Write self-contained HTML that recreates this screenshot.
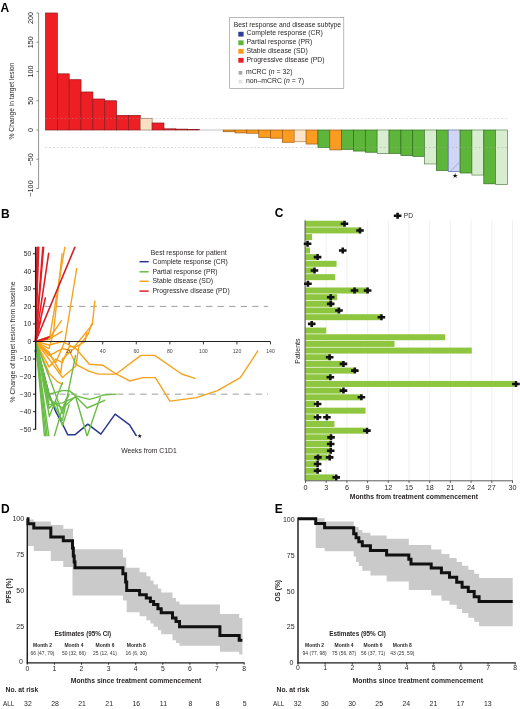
<!DOCTYPE html>
<html lang="en"><head><meta charset="utf-8"><title>Figure</title>
<style>html,body{margin:0;padding:0;background:#fff}body{width:520px;height:709px;overflow:hidden}svg{display:block;font-family:'Liberation Sans', Arial, Helvetica, sans-serif}</style>
</head><body>
<svg width="520" height="709" viewBox="0 0 520 709" font-family='"Liberation Sans", Arial, Helvetica, sans-serif'>
<defs>
<pattern id="hPDl" width="1.6" height="1.6" patternUnits="userSpaceOnUse" patternTransform="rotate(45)"><line x1="0" y1="0.8" x2="1.6" y2="0.8" stroke="#f4c9b0" stroke-width="0.45"/></pattern>
<pattern id="hSDl" width="1.6" height="1.6" patternUnits="userSpaceOnUse" patternTransform="rotate(45)"><line x1="0" y1="0.8" x2="1.6" y2="0.8" stroke="#fbd2a4" stroke-width="0.45"/></pattern>
<pattern id="hPRl" width="1.6" height="1.6" patternUnits="userSpaceOnUse" patternTransform="rotate(45)"><line x1="0" y1="0.8" x2="1.6" y2="0.8" stroke="#b4dba6" stroke-width="0.45"/></pattern>
<pattern id="hCRl" width="1.6" height="1.6" patternUnits="userSpaceOnUse" patternTransform="rotate(45)"><line x1="0" y1="0.8" x2="1.6" y2="0.8" stroke="#b0baea" stroke-width="0.45"/></pattern>
</defs>
<rect width="520" height="709" fill="#fff"/>
<g id="panelA">
<text x="0.50" y="12.20" font-size="12" font-weight="bold" fill="#000">A</text>
<line x1="38.6" y1="13.00" x2="38.6" y2="188.50" stroke="#4d4d4d" stroke-width="0.6"/>
<line x1="36.3" y1="13.00" x2="38.6" y2="13.00" stroke="#4d4d4d" stroke-width="0.6"/>
<text x="30.40" y="20.61" font-size="7.3" text-anchor="middle" transform="rotate(-90 30.40 18.00)" fill="#231f20">200</text>
<line x1="36.3" y1="42.25" x2="38.6" y2="42.25" stroke="#4d4d4d" stroke-width="0.6"/>
<text x="30.40" y="44.86" font-size="7.3" text-anchor="middle" transform="rotate(-90 30.40 42.25)" fill="#231f20">150</text>
<line x1="36.3" y1="71.50" x2="38.6" y2="71.50" stroke="#4d4d4d" stroke-width="0.6"/>
<text x="30.40" y="74.11" font-size="7.3" text-anchor="middle" transform="rotate(-90 30.40 71.50)" fill="#231f20">100</text>
<line x1="36.3" y1="100.75" x2="38.6" y2="100.75" stroke="#4d4d4d" stroke-width="0.6"/>
<text x="30.40" y="103.36" font-size="7.3" text-anchor="middle" transform="rotate(-90 30.40 100.75)" fill="#231f20">50</text>
<line x1="36.3" y1="130.00" x2="38.6" y2="130.00" stroke="#4d4d4d" stroke-width="0.6"/>
<text x="30.40" y="132.61" font-size="7.3" text-anchor="middle" transform="rotate(-90 30.40 130.00)" fill="#231f20">0</text>
<line x1="36.3" y1="159.25" x2="38.6" y2="159.25" stroke="#4d4d4d" stroke-width="0.6"/>
<text x="30.40" y="161.86" font-size="7.3" text-anchor="middle" transform="rotate(-90 30.40 159.25)" fill="#231f20">−50</text>
<line x1="36.3" y1="188.50" x2="38.6" y2="188.50" stroke="#4d4d4d" stroke-width="0.6"/>
<text x="30.40" y="191.11" font-size="7.3" text-anchor="middle" transform="rotate(-90 30.40 188.50)" fill="#231f20">−100</text>
<text x="11.90" y="103.58" font-size="7.2" text-anchor="middle" textLength="77.00" lengthAdjust="spacingAndGlyphs" transform="rotate(-90 11.90 101.00)" fill="#231f20">% Change in target lesion</text>
<rect x="45.50" y="13.00" width="11.85" height="117.00" fill="#ed1f24" stroke="#8e1b1e" stroke-width="0.7"/>
<rect x="57.35" y="73.84" width="11.85" height="56.16" fill="#ed1f24" stroke="#8e1b1e" stroke-width="0.7"/>
<rect x="69.19" y="79.69" width="11.85" height="50.31" fill="#ed1f24" stroke="#8e1b1e" stroke-width="0.7"/>
<rect x="81.04" y="91.97" width="11.85" height="38.03" fill="#ed1f24" stroke="#8e1b1e" stroke-width="0.7"/>
<rect x="92.88" y="99.00" width="11.85" height="31.00" fill="#ed1f24" stroke="#8e1b1e" stroke-width="0.7"/>
<rect x="104.73" y="100.75" width="11.85" height="29.25" fill="#ed1f24" stroke="#8e1b1e" stroke-width="0.7"/>
<rect x="116.58" y="115.38" width="11.85" height="14.62" fill="#ed1f24" stroke="#8e1b1e" stroke-width="0.7"/>
<rect x="128.42" y="115.38" width="11.85" height="14.62" fill="#ed1f24" stroke="#8e1b1e" stroke-width="0.7"/>
<rect x="140.27" y="118.30" width="11.85" height="11.70" fill="#fbe6cb" stroke="#8f6a4a" stroke-width="0.7"/>
<rect x="140.67" y="118.70" width="11.05" height="10.90" fill="url(#hPDl)" stroke="none"/>
<rect x="152.11" y="122.98" width="11.85" height="7.02" fill="#ed1f24" stroke="#8e1b1e" stroke-width="0.7"/>
<rect x="163.96" y="128.83" width="11.85" height="1.17" fill="#ed1f24" stroke="#8e1b1e" stroke-width="0.7"/>
<rect x="175.81" y="129.12" width="11.85" height="0.88" fill="#ed1f24" stroke="#8e1b1e" stroke-width="0.7"/>
<rect x="187.65" y="129.41" width="11.85" height="0.59" fill="#ed1f24" stroke="#8e1b1e" stroke-width="0.7"/>
<rect x="223.19" y="130.00" width="11.85" height="1.75" fill="#fb9b20" stroke="#9c5a12" stroke-width="0.7"/>
<rect x="235.04" y="130.00" width="11.85" height="2.93" fill="#fb9b20" stroke="#9c5a12" stroke-width="0.7"/>
<rect x="246.88" y="130.00" width="11.85" height="3.22" fill="#fb9b20" stroke="#9c5a12" stroke-width="0.7"/>
<rect x="258.73" y="130.00" width="11.85" height="7.49" fill="#fb9b20" stroke="#9c5a12" stroke-width="0.7"/>
<rect x="270.57" y="130.00" width="11.85" height="8.19" fill="#fb9b20" stroke="#9c5a12" stroke-width="0.7"/>
<rect x="282.42" y="130.00" width="11.85" height="12.28" fill="#fb9b20" stroke="#9c5a12" stroke-width="0.7"/>
<rect x="294.27" y="130.00" width="11.85" height="11.70" fill="#ffecd6" stroke="#b07c48" stroke-width="0.7"/>
<rect x="294.67" y="130.40" width="11.05" height="10.90" fill="url(#hSDl)" stroke="none"/>
<rect x="306.11" y="130.00" width="11.85" height="14.04" fill="#fb9b20" stroke="#9c5a12" stroke-width="0.7"/>
<rect x="317.96" y="130.00" width="11.85" height="17.55" fill="#5db53a" stroke="#2f6e1e" stroke-width="0.7"/>
<rect x="329.80" y="130.00" width="11.85" height="19.89" fill="#fb9b20" stroke="#9c5a12" stroke-width="0.7"/>
<rect x="341.65" y="130.00" width="11.85" height="19.31" fill="#5db53a" stroke="#2f6e1e" stroke-width="0.7"/>
<rect x="353.50" y="130.00" width="11.85" height="21.06" fill="#5db53a" stroke="#2f6e1e" stroke-width="0.7"/>
<rect x="365.34" y="130.00" width="11.85" height="22.23" fill="#5db53a" stroke="#2f6e1e" stroke-width="0.7"/>
<rect x="377.19" y="130.00" width="11.85" height="23.40" fill="#e6f3df" stroke="#4f7f42" stroke-width="0.7"/>
<rect x="377.59" y="130.40" width="11.05" height="22.60" fill="url(#hPRl)" stroke="none"/>
<rect x="389.03" y="130.00" width="11.85" height="23.40" fill="#5db53a" stroke="#2f6e1e" stroke-width="0.7"/>
<rect x="400.88" y="130.00" width="11.85" height="25.45" fill="#5db53a" stroke="#2f6e1e" stroke-width="0.7"/>
<rect x="412.73" y="130.00" width="11.85" height="26.32" fill="#5db53a" stroke="#2f6e1e" stroke-width="0.7"/>
<rect x="424.57" y="130.00" width="11.85" height="33.93" fill="#e6f3df" stroke="#4f7f42" stroke-width="0.7"/>
<rect x="424.97" y="130.40" width="11.05" height="33.13" fill="url(#hPRl)" stroke="none"/>
<rect x="436.42" y="130.00" width="11.85" height="40.37" fill="#5db53a" stroke="#2f6e1e" stroke-width="0.7"/>
<rect x="448.26" y="130.00" width="11.85" height="41.53" fill="#dbe1f6" stroke="#55669f" stroke-width="0.7"/>
<rect x="448.66" y="130.40" width="11.05" height="40.73" fill="url(#hCRl)" stroke="none"/>
<rect x="460.11" y="130.00" width="11.85" height="43.00" fill="#5db53a" stroke="#2f6e1e" stroke-width="0.7"/>
<rect x="471.96" y="130.00" width="11.85" height="45.04" fill="#e6f3df" stroke="#4f7f42" stroke-width="0.7"/>
<rect x="472.36" y="130.40" width="11.05" height="44.24" fill="url(#hPRl)" stroke="none"/>
<rect x="483.80" y="130.00" width="11.85" height="53.82" fill="#5db53a" stroke="#2f6e1e" stroke-width="0.7"/>
<rect x="495.65" y="130.00" width="11.85" height="54.41" fill="#e6f3df" stroke="#4f7f42" stroke-width="0.7"/>
<rect x="496.05" y="130.40" width="11.05" height="53.61" fill="url(#hPRl)" stroke="none"/>
<line x1="199.50" y1="130" x2="223.19" y2="130" stroke="#9a9a9a" stroke-width="0.6"/>
<line x1="450.16" y1="171.53" x2="460.11" y2="161.53" stroke="#6f7fc0" stroke-width="0.5"/>
<line x1="45.5" y1="118.30" x2="507.5" y2="118.30" stroke="#a6a6a6" stroke-width="0.6" stroke-dasharray="1.6 2.2" opacity="0.85"/>
<line x1="45.5" y1="147.55" x2="507.5" y2="147.55" stroke="#a6a6a6" stroke-width="0.6" stroke-dasharray="1.6 2.2" opacity="0.85"/>
<text x="455.30" y="178.33" font-size="6.5" text-anchor="middle" fill="#111">★</text>
<rect x="229.7" y="17.6" width="114.1" height="70.8" fill="#fff" stroke="#8c8c8c" stroke-width="0.6"/>
<text x="233.80" y="26.87" font-size="6.9" textLength="107.30" lengthAdjust="spacingAndGlyphs" fill="#231f20">Best response and disease subtype</text>
<rect x="238.3" y="31.80" width="5.3" height="4.8" fill="#2e3d98"/>
<text x="246.50" y="35.47" font-size="6.9" fill="#231f20">Complete response (CR)</text>
<rect x="238.3" y="40.40" width="5.3" height="4.8" fill="#5db53a"/>
<text x="246.50" y="44.07" font-size="6.9" fill="#231f20">Partial response (PR)</text>
<rect x="238.3" y="48.90" width="5.3" height="4.8" fill="#fb9b20"/>
<text x="246.50" y="52.57" font-size="6.9" fill="#231f20">Stable disease (SD)</text>
<rect x="238.3" y="57.90" width="5.3" height="4.8" fill="#ed1f24"/>
<text x="246.50" y="61.57" font-size="6.9" fill="#231f20">Progressive disease (PD)</text>
<rect x="238.6" y="71.00" width="3.7" height="3.7" fill="#a8a8a8"/>
<text x="245.90" y="74.37" font-size="6.9" fill="#231f20">mCRC (<tspan font-style="italic">n</tspan> = 32)</text>
<rect x="238.6" y="79.80" width="3.7" height="3.7" fill="#e3e3e3"/>
<text x="245.90" y="82.97" font-size="6.9" fill="#231f20">non–mCRC (<tspan font-style="italic">n</tspan> = 7)</text>
</g>
<g id="panelB">
<text x="0.90" y="218.00" font-size="12" font-weight="bold" fill="#000">B</text>
<clipPath id="clipB"><rect x="30" y="246.8" width="250" height="189.4"/></clipPath>
<line x1="44.3" y1="306.40" x2="268" y2="306.40" stroke="#9d9d9d" stroke-width="1" stroke-dasharray="6.4 5.15"/>
<line x1="47.8" y1="394.15" x2="268" y2="394.15" stroke="#9d9d9d" stroke-width="1" stroke-dasharray="6.4 5.15"/>
<g clip-path="url(#clipB)">
<polyline points="35.60,341.50 49.02,366.95 55.74,359.05 62.45,362.56 69.16,346.76 74.87,346.24 92.32,324.65 94.83,301.13" fill="none" stroke="#f6a21d" stroke-width="1.4" stroke-linejoin="round" stroke-linecap="round"/>
<polyline points="35.60,341.50 49.02,359.05 62.45,377.48 75.87,366.07 78.89,346.24 88.29,334.13 91.65,323.95" fill="none" stroke="#f6a21d" stroke-width="1.4" stroke-linejoin="round" stroke-linecap="round"/>
<polyline points="35.60,341.50 49.02,373.09 57.41,381.87 62.45,384.15" fill="none" stroke="#f6a21d" stroke-width="1.4" stroke-linejoin="round" stroke-linecap="round"/>
<polyline points="35.60,341.50 49.02,355.54 62.45,348.52 69.16,350.27 75.87,364.31 89.30,371.33 98.53,374.14 116.14,373.97 140.81,355.36 154.74,355.36 181.59,373.97 195.01,378.36" fill="none" stroke="#f6a21d" stroke-width="1.4" stroke-linejoin="round" stroke-linecap="round"/>
<polyline points="35.60,341.50 49.02,345.01 62.45,341.50 75.87,348.52 89.30,364.31 102.72,365.19 116.14,373.97 129.57,380.99 142.66,377.65 155.41,377.65 169.84,401.17 196.35,397.66 217.50,390.64 240.32,377.65 257.77,350.98" fill="none" stroke="#f6a21d" stroke-width="1.4" stroke-linejoin="round" stroke-linecap="round"/>
<polyline points="35.60,341.50 49.02,352.03 60.77,373.09 62.45,359.05 75.87,346.76 85.10,341.50 86.78,332.73" fill="none" stroke="#f6a21d" stroke-width="1.4" stroke-linejoin="round" stroke-linecap="round"/>
<polyline points="35.60,341.50 50.70,336.24 61.44,320.62" fill="none" stroke="#f6a21d" stroke-width="1.4" stroke-linejoin="round" stroke-linecap="round"/>
<polyline points="35.60,341.50 50.70,338.17 62.11,331.41" fill="none" stroke="#f6a21d" stroke-width="1.4" stroke-linejoin="round" stroke-linecap="round"/>
<polyline points="35.60,341.50 49.36,339.39 65.47,243.22" fill="none" stroke="#f6a21d" stroke-width="1.4" stroke-linejoin="round" stroke-linecap="round"/>
<polyline points="35.60,341.50 49.02,348.52 53.39,332.73 62.11,253.75" fill="none" stroke="#f6a21d" stroke-width="1.4" stroke-linejoin="round" stroke-linecap="round"/>
<polyline points="35.60,341.50 49.02,353.79 55.74,362.56 64.80,341.50 76.71,268.49" fill="none" stroke="#f6a21d" stroke-width="1.4" stroke-linejoin="round" stroke-linecap="round"/>
<polyline points="35.60,341.50 49.02,394.15 55.74,411.70 62.45,423.99 67.82,434.87 74.87,434.87 87.79,424.16 100.87,434.16 115.14,414.16 129.57,424.86 136.28,435.74" fill="none" stroke="#2b3a8f" stroke-width="1.5" stroke-linejoin="round" stroke-linecap="round"/>
<polyline points="35.60,341.50 44.83,439.78" fill="none" stroke="#69bc45" stroke-width="1.4" stroke-linejoin="round" stroke-linecap="round"/>
<polyline points="35.60,341.50 46.17,439.78" fill="none" stroke="#69bc45" stroke-width="1.4" stroke-linejoin="round" stroke-linecap="round"/>
<polyline points="35.60,341.50 47.68,439.78" fill="none" stroke="#69bc45" stroke-width="1.4" stroke-linejoin="round" stroke-linecap="round"/>
<polyline points="35.60,341.50 49.36,439.78" fill="none" stroke="#69bc45" stroke-width="1.4" stroke-linejoin="round" stroke-linecap="round"/>
<polyline points="35.60,341.50 49.36,416.44 62.45,382.57" fill="none" stroke="#69bc45" stroke-width="1.4" stroke-linejoin="round" stroke-linecap="round"/>
<polyline points="35.60,341.50 49.02,394.15 55.74,392.39 62.45,390.64 69.16,390.64 75.87,395.90 89.30,399.42 96.01,397.66 102.72,395.03 116.14,394.15" fill="none" stroke="#69bc45" stroke-width="1.4" stroke-linejoin="round" stroke-linecap="round"/>
<polyline points="35.60,341.50 49.02,395.90 62.45,420.48 75.54,355.54" fill="none" stroke="#69bc45" stroke-width="1.4" stroke-linejoin="round" stroke-linecap="round"/>
<polyline points="53.22,439.78 62.45,408.19 69.16,394.15" fill="none" stroke="#69bc45" stroke-width="1.4" stroke-linejoin="round" stroke-linecap="round"/>
<polyline points="35.60,341.50 49.02,399.42 62.45,408.19 75.54,396.43 87.11,436.27 100.20,397.66" fill="none" stroke="#69bc45" stroke-width="1.4" stroke-linejoin="round" stroke-linecap="round"/>
<polyline points="35.60,341.50 49.02,404.68 62.45,402.93 75.87,396.78 87.11,408.01 104.73,400.29" fill="none" stroke="#69bc45" stroke-width="1.4" stroke-linejoin="round" stroke-linecap="round"/>
<polyline points="35.60,341.50 49.02,408.19 55.74,401.17 62.45,425.74 69.16,404.68" fill="none" stroke="#69bc45" stroke-width="1.4" stroke-linejoin="round" stroke-linecap="round"/>
<polyline points="35.60,341.50 49.02,376.60 62.45,413.45 65.80,399.42" fill="none" stroke="#69bc45" stroke-width="1.4" stroke-linejoin="round" stroke-linecap="round"/>
<polyline points="35.60,341.50 37.11,243.22" fill="none" stroke="#e21f26" stroke-width="1.6" stroke-linejoin="round" stroke-linecap="round"/>
<polyline points="35.60,341.50 37.95,243.22" fill="none" stroke="#e21f26" stroke-width="1.6" stroke-linejoin="round" stroke-linecap="round"/>
<polyline points="35.60,341.50 38.79,243.22" fill="none" stroke="#e21f26" stroke-width="1.6" stroke-linejoin="round" stroke-linecap="round"/>
<polyline points="35.60,341.50 43.15,243.22" fill="none" stroke="#e21f26" stroke-width="1.6" stroke-linejoin="round" stroke-linecap="round"/>
<polyline points="35.60,341.50 43.91,243.22" fill="none" stroke="#e21f26" stroke-width="1.6" stroke-linejoin="round" stroke-linecap="round"/>
<polyline points="35.60,341.50 48.69,253.22" fill="none" stroke="#e21f26" stroke-width="1.6" stroke-linejoin="round" stroke-linecap="round"/>
<polyline points="35.60,341.50 45.33,297.98" fill="none" stroke="#e21f26" stroke-width="1.6" stroke-linejoin="round" stroke-linecap="round"/>
<polyline points="35.60,341.50 40.63,320.44" fill="none" stroke="#e21f26" stroke-width="1.6" stroke-linejoin="round" stroke-linecap="round"/>
<polyline points="35.60,341.50 49.02,336.94" fill="none" stroke="#e21f26" stroke-width="1.6" stroke-linejoin="round" stroke-linecap="round"/>
<polyline points="35.60,341.50 47.35,338.69" fill="none" stroke="#e21f26" stroke-width="1.6" stroke-linejoin="round" stroke-linecap="round"/>
<polyline points="35.60,341.50 76.54,243.22" fill="none" stroke="#d21f28" stroke-width="1.6" stroke-linejoin="round" stroke-linecap="round"/>
</g>
<line x1="35.6" y1="246.8" x2="35.6" y2="429.75" stroke="#231f20" stroke-width="1.3"/>
<line x1="35.6" y1="341.5" x2="270.3" y2="341.5" stroke="#231f20" stroke-width="1.1"/>
<line x1="33" y1="253.75" x2="35.6" y2="253.75" stroke="#231f20" stroke-width="1"/>
<text x="31.40" y="256.18" font-size="6.8" text-anchor="end" fill="#231f20">50</text>
<line x1="33" y1="271.30" x2="35.6" y2="271.30" stroke="#231f20" stroke-width="1"/>
<text x="31.40" y="273.73" font-size="6.8" text-anchor="end" fill="#231f20">40</text>
<line x1="33" y1="288.85" x2="35.6" y2="288.85" stroke="#231f20" stroke-width="1"/>
<text x="31.40" y="291.28" font-size="6.8" text-anchor="end" fill="#231f20">30</text>
<line x1="33" y1="306.40" x2="35.6" y2="306.40" stroke="#231f20" stroke-width="1"/>
<text x="31.40" y="308.83" font-size="6.8" text-anchor="end" fill="#231f20">20</text>
<line x1="33" y1="323.95" x2="35.6" y2="323.95" stroke="#231f20" stroke-width="1"/>
<text x="31.40" y="326.38" font-size="6.8" text-anchor="end" fill="#231f20">10</text>
<line x1="33" y1="341.50" x2="35.6" y2="341.50" stroke="#231f20" stroke-width="1"/>
<text x="31.40" y="343.93" font-size="6.8" text-anchor="end" fill="#231f20">0</text>
<line x1="33" y1="359.05" x2="35.6" y2="359.05" stroke="#231f20" stroke-width="1"/>
<text x="31.40" y="361.48" font-size="6.8" text-anchor="end" fill="#231f20">−10</text>
<line x1="33" y1="376.60" x2="35.6" y2="376.60" stroke="#231f20" stroke-width="1"/>
<text x="31.40" y="379.03" font-size="6.8" text-anchor="end" fill="#231f20">−20</text>
<line x1="33" y1="394.15" x2="35.6" y2="394.15" stroke="#231f20" stroke-width="1"/>
<text x="31.40" y="396.58" font-size="6.8" text-anchor="end" fill="#231f20">−30</text>
<line x1="33" y1="411.70" x2="35.6" y2="411.70" stroke="#231f20" stroke-width="1"/>
<text x="31.40" y="414.13" font-size="6.8" text-anchor="end" fill="#231f20">−40</text>
<line x1="33" y1="429.25" x2="35.6" y2="429.25" stroke="#231f20" stroke-width="1"/>
<text x="31.40" y="431.68" font-size="6.8" text-anchor="end" fill="#231f20">−50</text>
<line x1="69.16" y1="341.5" x2="69.16" y2="344.4" stroke="#231f20" stroke-width="0.9"/>
<text x="69.16" y="352.66" font-size="5.2" text-anchor="middle" fill="#4a4a4a">20</text>
<line x1="102.72" y1="341.5" x2="102.72" y2="344.4" stroke="#231f20" stroke-width="0.9"/>
<text x="102.72" y="352.66" font-size="5.2" text-anchor="middle" fill="#4a4a4a">40</text>
<line x1="136.28" y1="341.5" x2="136.28" y2="344.4" stroke="#231f20" stroke-width="0.9"/>
<text x="136.28" y="352.66" font-size="5.2" text-anchor="middle" fill="#4a4a4a">60</text>
<line x1="169.84" y1="341.5" x2="169.84" y2="344.4" stroke="#231f20" stroke-width="0.9"/>
<text x="169.84" y="352.66" font-size="5.2" text-anchor="middle" fill="#4a4a4a">80</text>
<line x1="203.40" y1="341.5" x2="203.40" y2="344.4" stroke="#231f20" stroke-width="0.9"/>
<text x="203.40" y="352.66" font-size="5.2" text-anchor="middle" fill="#4a4a4a">100</text>
<line x1="236.96" y1="341.5" x2="236.96" y2="344.4" stroke="#231f20" stroke-width="0.9"/>
<text x="236.96" y="352.66" font-size="5.2" text-anchor="middle" fill="#4a4a4a">120</text>
<line x1="270.52" y1="341.5" x2="270.52" y2="344.4" stroke="#231f20" stroke-width="0.9"/>
<text x="270.52" y="352.66" font-size="5.2" text-anchor="middle" fill="#4a4a4a">140</text>
<text x="35.60" y="352.66" font-size="5.2" text-anchor="middle" fill="#355">0</text>
<text x="12.60" y="344.51" font-size="7.0" text-anchor="middle" textLength="121.00" lengthAdjust="spacingAndGlyphs" transform="rotate(-90 12.60 342.00)" fill="#231f20">% Change of target lesion from baseline</text>
<text x="121.20" y="452.66" font-size="6.6" textLength="55.50" lengthAdjust="spacingAndGlyphs" fill="#231f20">Weeks from C1D1</text>
<text x="139.40" y="437.60" font-size="5.6" text-anchor="middle" fill="#111">★</text>
<text x="150.80" y="254.56" font-size="6.6" textLength="75.80" lengthAdjust="spacingAndGlyphs" fill="#231f20">Best response for patient</text>
<line x1="139.5" y1="261.7" x2="148.7" y2="261.7" stroke="#2e3192" stroke-width="1.5"/>
<text x="152.50" y="263.84" font-size="6.82" fill="#231f20">Complete response (CR)</text>
<line x1="139.5" y1="271.8" x2="148.7" y2="271.8" stroke="#69bc45" stroke-width="1.5"/>
<text x="152.50" y="273.94" font-size="6.82" fill="#231f20">Partial response (PR)</text>
<line x1="139.5" y1="281.3" x2="148.7" y2="281.3" stroke="#f6a21d" stroke-width="1.5"/>
<text x="152.50" y="283.44" font-size="6.82" fill="#231f20">Stable disease (SD)</text>
<line x1="139.5" y1="291.1" x2="148.7" y2="291.1" stroke="#e21f26" stroke-width="1.5"/>
<text x="152.50" y="293.24" font-size="6.82" fill="#231f20">Progressive disease (PD)</text>
</g>
<g id="panelC">
<text x="274.80" y="217.40" font-size="12" font-weight="bold" fill="#000">C</text>
<line x1="326.20" y1="220.4" x2="326.20" y2="480.8" stroke="#e9e9e9" stroke-width="0.7"/>
<line x1="346.90" y1="220.4" x2="346.90" y2="480.8" stroke="#e9e9e9" stroke-width="0.7"/>
<line x1="367.60" y1="220.4" x2="367.60" y2="480.8" stroke="#e9e9e9" stroke-width="0.7"/>
<line x1="388.30" y1="220.4" x2="388.30" y2="480.8" stroke="#e9e9e9" stroke-width="0.7"/>
<line x1="409.00" y1="220.4" x2="409.00" y2="480.8" stroke="#e9e9e9" stroke-width="0.7"/>
<line x1="429.70" y1="220.4" x2="429.70" y2="480.8" stroke="#e9e9e9" stroke-width="0.7"/>
<line x1="450.40" y1="220.4" x2="450.40" y2="480.8" stroke="#e9e9e9" stroke-width="0.7"/>
<line x1="471.10" y1="220.4" x2="471.10" y2="480.8" stroke="#e9e9e9" stroke-width="0.7"/>
<line x1="491.80" y1="220.4" x2="491.80" y2="480.8" stroke="#e9e9e9" stroke-width="0.7"/>
<line x1="512.50" y1="220.4" x2="512.50" y2="480.8" stroke="#e9e9e9" stroke-width="0.7"/>
<rect x="305.50" y="220.75" width="37.95" height="6.0" fill="#8fc640"/>
<rect x="305.50" y="227.43" width="53.82" height="6.0" fill="#8fc640"/>
<rect x="305.50" y="234.10" width="6.55" height="6.0" fill="#8fc640"/>
<rect x="305.50" y="247.45" width="4.49" height="6.0" fill="#8fc640"/>
<rect x="305.50" y="254.12" width="10.70" height="6.0" fill="#8fc640"/>
<rect x="305.50" y="260.80" width="31.05" height="6.0" fill="#8fc640"/>
<rect x="305.50" y="267.48" width="7.59" height="6.0" fill="#8fc640"/>
<rect x="305.50" y="274.15" width="29.67" height="6.0" fill="#8fc640"/>
<rect x="305.50" y="287.50" width="62.10" height="6.0" fill="#8fc640"/>
<rect x="305.50" y="294.18" width="31.74" height="6.0" fill="#8fc640"/>
<rect x="305.50" y="300.85" width="26.91" height="6.0" fill="#8fc640"/>
<rect x="305.50" y="307.52" width="32.43" height="6.0" fill="#8fc640"/>
<rect x="305.50" y="314.20" width="74.86" height="6.0" fill="#8fc640"/>
<rect x="305.50" y="327.55" width="20.70" height="6.0" fill="#8fc640"/>
<rect x="305.50" y="334.23" width="139.72" height="6.0" fill="#8fc640"/>
<rect x="305.50" y="340.90" width="89.01" height="6.0" fill="#8fc640"/>
<rect x="305.50" y="347.57" width="166.29" height="6.0" fill="#8fc640"/>
<rect x="305.50" y="354.25" width="23.46" height="6.0" fill="#8fc640"/>
<rect x="305.50" y="360.92" width="37.26" height="6.0" fill="#8fc640"/>
<rect x="305.50" y="367.60" width="48.30" height="6.0" fill="#8fc640"/>
<rect x="305.50" y="374.27" width="24.15" height="6.0" fill="#8fc640"/>
<rect x="305.50" y="380.95" width="209.07" height="6.0" fill="#8fc640"/>
<rect x="305.50" y="387.62" width="35.88" height="6.0" fill="#8fc640"/>
<rect x="305.50" y="394.30" width="55.20" height="6.0" fill="#8fc640"/>
<rect x="305.50" y="400.98" width="9.66" height="6.0" fill="#8fc640"/>
<rect x="305.50" y="407.65" width="60.03" height="6.0" fill="#8fc640"/>
<rect x="305.50" y="414.32" width="9.66" height="6.0" fill="#8fc640"/>
<rect x="305.50" y="421.00" width="28.98" height="6.0" fill="#8fc640"/>
<rect x="305.50" y="427.67" width="59.34" height="6.0" fill="#8fc640"/>
<rect x="305.50" y="434.35" width="24.50" height="6.0" fill="#8fc640"/>
<rect x="305.50" y="441.02" width="24.15" height="6.0" fill="#8fc640"/>
<rect x="305.50" y="447.70" width="24.15" height="6.0" fill="#8fc640"/>
<rect x="305.50" y="454.38" width="22.08" height="6.0" fill="#8fc640"/>
<rect x="305.50" y="461.05" width="10.70" height="6.0" fill="#8fc640"/>
<rect x="305.50" y="467.73" width="10.70" height="6.0" fill="#8fc640"/>
<rect x="305.50" y="474.40" width="28.98" height="6.0" fill="#8fc640"/>
<line x1="305.1" y1="220.4" x2="305.1" y2="480.8" stroke="#2b2b2b" stroke-width="0.9"/>
<line x1="305.1" y1="480.8" x2="513" y2="480.8" stroke="#4a4a4a" stroke-width="0.9"/>
<path d="M340.69 223.75H348.29M344.49 220.75V226.75" stroke="#111" stroke-width="2.6" fill="none"/>
<path d="M356.21 230.43H363.81M360.01 227.43V233.43" stroke="#111" stroke-width="2.6" fill="none"/>
<path d="M303.77 243.78H311.37M307.57 240.78V246.78" stroke="#111" stroke-width="2.6" fill="none"/>
<path d="M338.96 250.45H346.56M342.76 247.45V253.45" stroke="#111" stroke-width="2.6" fill="none"/>
<path d="M313.77 257.12H321.38M317.57 254.12V260.12" stroke="#111" stroke-width="2.6" fill="none"/>
<path d="M310.67 270.48H318.27M314.47 267.48V273.48" stroke="#111" stroke-width="2.6" fill="none"/>
<path d="M304.12 283.82H311.72M307.92 280.82V286.82" stroke="#111" stroke-width="2.6" fill="none"/>
<path d="M350.69 290.50H358.29M354.49 287.50V293.50" stroke="#111" stroke-width="2.6" fill="none"/>
<path d="M363.80 290.50H371.40M367.60 287.50V293.50" stroke="#111" stroke-width="2.6" fill="none"/>
<path d="M326.88 297.18H334.49M330.69 294.18V300.18" stroke="#111" stroke-width="2.6" fill="none"/>
<path d="M326.88 303.85H334.49M330.69 300.85V306.85" stroke="#111" stroke-width="2.6" fill="none"/>
<path d="M335.16 310.52H342.76M338.96 307.52V313.52" stroke="#111" stroke-width="2.6" fill="none"/>
<path d="M377.60 317.20H385.20M381.40 314.20V320.20" stroke="#111" stroke-width="2.6" fill="none"/>
<path d="M307.91 323.88H315.51M311.71 320.88V326.88" stroke="#111" stroke-width="2.6" fill="none"/>
<path d="M325.85 357.25H333.45M329.65 354.25V360.25" stroke="#111" stroke-width="2.6" fill="none"/>
<path d="M339.65 363.92H347.25M343.45 360.92V366.92" stroke="#111" stroke-width="2.6" fill="none"/>
<path d="M351.04 370.60H358.64M354.84 367.60V373.60" stroke="#111" stroke-width="2.6" fill="none"/>
<path d="M326.54 377.27H334.14M330.34 374.27V380.27" stroke="#111" stroke-width="2.6" fill="none"/>
<path d="M512.15 383.95H519.75M515.95 380.95V386.95" stroke="#111" stroke-width="2.6" fill="none"/>
<path d="M339.65 390.62H347.25M343.45 387.62V393.62" stroke="#111" stroke-width="2.6" fill="none"/>
<path d="M357.59 397.30H365.19M361.39 394.30V400.30" stroke="#111" stroke-width="2.6" fill="none"/>
<path d="M313.77 403.98H321.38M317.57 400.98V406.98" stroke="#111" stroke-width="2.6" fill="none"/>
<path d="M313.77 417.32H321.38M317.57 414.32V420.32" stroke="#111" stroke-width="2.6" fill="none"/>
<path d="M323.09 417.32H330.69M326.89 414.32V420.32" stroke="#111" stroke-width="2.6" fill="none"/>
<path d="M363.11 430.67H370.71M366.91 427.67V433.67" stroke="#111" stroke-width="2.6" fill="none"/>
<path d="M327.23 437.35H334.83M331.03 434.35V440.35" stroke="#111" stroke-width="2.6" fill="none"/>
<path d="M326.88 444.02H334.49M330.69 441.02V447.02" stroke="#111" stroke-width="2.6" fill="none"/>
<path d="M326.88 450.70H334.49M330.69 447.70V453.70" stroke="#111" stroke-width="2.6" fill="none"/>
<path d="M314.12 457.38H321.72M317.92 454.38V460.38" stroke="#111" stroke-width="2.6" fill="none"/>
<path d="M325.85 457.38H333.45M329.65 454.38V460.38" stroke="#111" stroke-width="2.6" fill="none"/>
<path d="M313.77 464.05H321.38M317.57 461.05V467.05" stroke="#111" stroke-width="2.6" fill="none"/>
<path d="M313.77 470.73H321.38M317.57 467.73V473.73" stroke="#111" stroke-width="2.6" fill="none"/>
<path d="M332.40 477.40H340.00M336.20 474.40V480.40" stroke="#111" stroke-width="2.6" fill="none"/>
<path d="M393.80 215.80H401.40M397.60 212.80V218.80" stroke="#111" stroke-width="2.6" fill="none"/>
<text x="403.80" y="218.16" font-size="6.6" fill="#231f20">PD</text>
<line x1="305.50" y1="480.8" x2="305.50" y2="483.0" stroke="#2b2b2b" stroke-width="0.7"/>
<text x="305.50" y="490.18" font-size="7.2" text-anchor="middle" fill="#231f20">0</text>
<line x1="326.20" y1="480.8" x2="326.20" y2="483.0" stroke="#2b2b2b" stroke-width="0.7"/>
<text x="326.20" y="490.18" font-size="7.2" text-anchor="middle" fill="#231f20">3</text>
<line x1="346.90" y1="480.8" x2="346.90" y2="483.0" stroke="#2b2b2b" stroke-width="0.7"/>
<text x="346.90" y="490.18" font-size="7.2" text-anchor="middle" fill="#231f20">6</text>
<line x1="367.60" y1="480.8" x2="367.60" y2="483.0" stroke="#2b2b2b" stroke-width="0.7"/>
<text x="367.60" y="490.18" font-size="7.2" text-anchor="middle" fill="#231f20">9</text>
<line x1="388.30" y1="480.8" x2="388.30" y2="483.0" stroke="#2b2b2b" stroke-width="0.7"/>
<text x="388.30" y="490.18" font-size="7.2" text-anchor="middle" fill="#231f20">12</text>
<line x1="409.00" y1="480.8" x2="409.00" y2="483.0" stroke="#2b2b2b" stroke-width="0.7"/>
<text x="409.00" y="490.18" font-size="7.2" text-anchor="middle" fill="#231f20">15</text>
<line x1="429.70" y1="480.8" x2="429.70" y2="483.0" stroke="#2b2b2b" stroke-width="0.7"/>
<text x="429.70" y="490.18" font-size="7.2" text-anchor="middle" fill="#231f20">18</text>
<line x1="450.40" y1="480.8" x2="450.40" y2="483.0" stroke="#2b2b2b" stroke-width="0.7"/>
<text x="450.40" y="490.18" font-size="7.2" text-anchor="middle" fill="#231f20">21</text>
<line x1="471.10" y1="480.8" x2="471.10" y2="483.0" stroke="#2b2b2b" stroke-width="0.7"/>
<text x="471.10" y="490.18" font-size="7.2" text-anchor="middle" fill="#231f20">24</text>
<line x1="491.80" y1="480.8" x2="491.80" y2="483.0" stroke="#2b2b2b" stroke-width="0.7"/>
<text x="491.80" y="490.18" font-size="7.2" text-anchor="middle" fill="#231f20">27</text>
<line x1="512.50" y1="480.8" x2="512.50" y2="483.0" stroke="#2b2b2b" stroke-width="0.7"/>
<text x="512.50" y="490.18" font-size="7.2" text-anchor="middle" fill="#231f20">30</text>
<text x="413.90" y="498.93" font-size="6.8" text-anchor="middle" font-weight="bold" textLength="128.30" lengthAdjust="spacingAndGlyphs" fill="#231f20">Months from treatment commencement</text>
<text x="297.30" y="353.61" font-size="7.0" text-anchor="middle" transform="rotate(-90 297.30 351.10)" fill="#231f20">Patients</text>
</g>
<g id="panelD">
<text x="0.90" y="512.70" font-size="12" font-weight="bold" fill="#000">D</text>
<polygon points="28.00,519.50 33.80,519.50 33.80,521.50 50.80,521.50 50.80,525.00 63.30,525.00 63.30,528.80 73.00,528.80 73.00,549.30 122.90,549.30 122.90,557.50 126.20,557.50 126.20,567.70 139.60,567.70 139.60,572.30 146.30,572.30 146.30,576.30 150.40,576.30 150.40,580.40 153.60,580.40 153.60,584.40 157.90,584.40 157.90,588.50 161.20,588.50 161.20,592.50 172.50,592.50 172.50,597.90 176.00,597.90 176.00,601.40 179.50,601.40 179.50,604.60 219.90,604.60 219.90,614.00 239.20,614.00 239.20,618.10 242.40,618.10 242.40,654.40 239.20,654.40 239.20,651.70 219.90,651.70 219.90,645.80 179.50,645.80 179.50,643.10 176.00,643.10 176.00,640.20 172.50,640.20 172.50,634.20 161.20,634.20 161.20,630.20 157.90,630.20 157.90,626.70 153.60,626.70 153.60,623.50 150.40,623.50 150.40,620.20 146.30,620.20 146.30,616.20 139.60,616.20 139.60,612.20 126.70,612.20 126.70,600.60 122.90,600.60 122.90,595.50 72.50,595.50 72.50,567.00 63.30,567.00 63.30,561.00 50.80,561.00 50.80,551.00 33.80,551.00 33.80,546.00 28.00,546.00" fill="#cacaca"/>
<polyline points="27.30,518.80 28.00,518.80 28.00,523.80 33.80,523.80 33.80,528.00 50.80,528.00 50.80,537.00 63.30,537.00 63.30,540.80 72.50,540.80 72.50,548.00 73.30,548.00 73.30,556.00 74.20,556.00 74.20,562.00 75.00,562.00 75.00,567.70 122.90,567.70 122.90,573.70 125.60,573.70 125.60,582.00 126.70,582.00 126.70,590.60 139.60,590.60 139.60,594.70 146.30,594.70 146.30,597.90 150.40,597.90 150.40,601.40 153.60,601.40 153.60,604.60 157.90,604.60 157.90,608.70 161.20,608.70 161.20,612.70 172.50,612.70 172.50,618.10 176.00,618.10 176.00,621.60 179.50,621.60 179.50,626.70 219.90,626.70 219.90,635.60 239.20,635.60 239.20,640.20 242.40,640.20" fill="none" stroke="#111" stroke-width="3.0" stroke-linejoin="miter"/>
<line x1="27.3" y1="517.5" x2="27.3" y2="663.50" stroke="#1c1c1c" stroke-width="1.45"/>
<line x1="26.7" y1="662.90" x2="244.60" y2="662.90" stroke="#1c1c1c" stroke-width="1.4"/>
<text x="22.90" y="664.11" font-size="7.0" text-anchor="end" fill="#231f20">0</text>
<text x="24.10" y="628.81" font-size="7.0" text-anchor="end" fill="#231f20">25</text>
<text x="24.10" y="592.91" font-size="7.0" text-anchor="end" fill="#231f20">50</text>
<text x="24.10" y="557.01" font-size="7.0" text-anchor="end" fill="#231f20">75</text>
<text x="24.10" y="521.11" font-size="7.0" text-anchor="end" fill="#231f20">100</text>
<line x1="27.30" y1="662.90" x2="27.30" y2="664.70" stroke="#231f20" stroke-width="0.9"/>
<text x="27.30" y="671.03" font-size="6.8" text-anchor="middle" fill="#231f20">0</text>
<line x1="54.40" y1="662.90" x2="54.40" y2="664.70" stroke="#231f20" stroke-width="0.9"/>
<text x="54.40" y="671.03" font-size="6.8" text-anchor="middle" fill="#231f20">1</text>
<line x1="81.50" y1="662.90" x2="81.50" y2="664.70" stroke="#231f20" stroke-width="0.9"/>
<text x="81.50" y="671.03" font-size="6.8" text-anchor="middle" fill="#231f20">2</text>
<line x1="108.60" y1="662.90" x2="108.60" y2="664.70" stroke="#231f20" stroke-width="0.9"/>
<text x="108.60" y="671.03" font-size="6.8" text-anchor="middle" fill="#231f20">3</text>
<line x1="135.70" y1="662.90" x2="135.70" y2="664.70" stroke="#231f20" stroke-width="0.9"/>
<text x="135.70" y="671.03" font-size="6.8" text-anchor="middle" fill="#231f20">4</text>
<line x1="162.80" y1="662.90" x2="162.80" y2="664.70" stroke="#231f20" stroke-width="0.9"/>
<text x="162.80" y="671.03" font-size="6.8" text-anchor="middle" fill="#231f20">5</text>
<line x1="189.90" y1="662.90" x2="189.90" y2="664.70" stroke="#231f20" stroke-width="0.9"/>
<text x="189.90" y="671.03" font-size="6.8" text-anchor="middle" fill="#231f20">6</text>
<line x1="217.00" y1="662.90" x2="217.00" y2="664.70" stroke="#231f20" stroke-width="0.9"/>
<text x="217.00" y="671.03" font-size="6.8" text-anchor="middle" fill="#231f20">7</text>
<line x1="244.10" y1="662.90" x2="244.10" y2="664.70" stroke="#231f20" stroke-width="0.9"/>
<text x="244.10" y="671.03" font-size="6.8" text-anchor="middle" fill="#231f20">8</text>
<text x="8.60" y="593.16" font-size="6.6" text-anchor="middle" font-weight="bold" transform="rotate(-90 8.60 590.80)" fill="#231f20">PFS (%)</text>
<text x="82.80" y="636.06" font-size="6.3" text-anchor="middle" font-weight="bold" textLength="56.80" lengthAdjust="spacingAndGlyphs" fill="#231f20">Estimates (95% CI)</text>
<text x="42.50" y="646.58" font-size="4.7" text-anchor="middle" font-weight="bold" textLength="19.00" lengthAdjust="spacingAndGlyphs" fill="#231f20">Month 2</text>
<text x="42.50" y="654.98" font-size="4.7" text-anchor="middle" textLength="24.00" lengthAdjust="spacingAndGlyphs" fill="#333">66 (47, 79)</text>
<text x="73.90" y="646.58" font-size="4.7" text-anchor="middle" font-weight="bold" textLength="19.00" lengthAdjust="spacingAndGlyphs" fill="#231f20">Month 4</text>
<text x="73.90" y="654.98" font-size="4.7" text-anchor="middle" textLength="24.00" lengthAdjust="spacingAndGlyphs" fill="#333">50 (32, 66)</text>
<text x="105.00" y="646.58" font-size="4.7" text-anchor="middle" font-weight="bold" textLength="19.00" lengthAdjust="spacingAndGlyphs" fill="#231f20">Month 6</text>
<text x="105.00" y="654.98" font-size="4.7" text-anchor="middle" textLength="24.00" lengthAdjust="spacingAndGlyphs" fill="#333">25 (12, 41)</text>
<text x="136.30" y="646.58" font-size="4.7" text-anchor="middle" font-weight="bold" textLength="19.00" lengthAdjust="spacingAndGlyphs" fill="#231f20">Month 8</text>
<text x="136.30" y="654.98" font-size="4.7" text-anchor="middle" textLength="21.50" lengthAdjust="spacingAndGlyphs" fill="#333">16 (6, 30)</text>
<text x="136.00" y="682.57" font-size="6.9" text-anchor="middle" font-weight="bold" textLength="130.50" lengthAdjust="spacingAndGlyphs" fill="#231f20">Months since treatment commencement</text>
<text x="5.50" y="691.87" font-size="6.9" font-weight="bold" textLength="32.70" lengthAdjust="spacingAndGlyphs" fill="#231f20">No. at risk</text>
<text x="3.00" y="705.77" font-size="6.9" textLength="11.30" lengthAdjust="spacingAndGlyphs" fill="#231f20">ALL</text>
<text x="27.90" y="705.77" font-size="6.9" text-anchor="middle" fill="#231f20">32</text>
<text x="55.00" y="705.77" font-size="6.9" text-anchor="middle" fill="#231f20">28</text>
<text x="82.10" y="705.77" font-size="6.9" text-anchor="middle" fill="#231f20">21</text>
<text x="109.20" y="705.77" font-size="6.9" text-anchor="middle" fill="#231f20">21</text>
<text x="136.30" y="705.77" font-size="6.9" text-anchor="middle" fill="#231f20">16</text>
<text x="163.40" y="705.77" font-size="6.9" text-anchor="middle" fill="#231f20">11</text>
<text x="190.50" y="705.77" font-size="6.9" text-anchor="middle" fill="#231f20">8</text>
<text x="217.60" y="705.77" font-size="6.9" text-anchor="middle" fill="#231f20">8</text>
<text x="244.70" y="705.77" font-size="6.9" text-anchor="middle" fill="#231f20">5</text>
</g>
<g id="panelE">
<text x="274.80" y="512.80" font-size="12" font-weight="bold" fill="#000">E</text>
<polygon points="315.70,518.30 324.60,518.30 324.60,521.50 353.70,521.50 353.70,527.00 358.80,527.00 358.80,530.00 362.30,530.00 362.30,532.80 370.40,532.80 370.40,535.60 386.60,535.60 386.60,538.80 408.80,538.80 408.80,545.00 431.20,545.00 431.20,549.60 441.40,549.60 441.40,553.90 449.50,553.90 449.50,557.90 456.70,557.90 456.70,562.00 462.10,562.00 462.10,565.70 468.30,565.70 468.30,569.80 474.20,569.80 474.20,573.80 479.10,573.80 479.10,578.10 512.70,578.10 512.70,626.30 479.10,626.30 479.10,621.70 474.20,621.70 474.20,617.70 468.30,617.70 468.30,613.10 462.10,613.10 462.10,609.10 456.70,609.10 456.70,604.80 449.50,604.80 449.50,600.70 441.40,600.70 441.40,595.40 431.20,595.40 431.20,590.00 408.80,590.00 408.80,581.40 386.60,581.40 386.60,575.40 370.40,575.40 370.40,570.80 362.30,570.80 362.30,566.00 358.80,566.00 358.80,562.00 356.10,562.00 356.10,556.50 353.70,556.50 353.70,551.20 324.60,551.20 324.60,548.00 315.70,548.00" fill="#cacaca"/>
<polyline points="298.00,518.80 315.70,518.80 315.70,523.40 324.60,523.40 324.60,527.70 353.70,527.70 353.70,533.70 356.10,533.70 356.10,537.70 358.80,537.70 358.80,541.70 362.30,541.70 362.30,545.80 370.40,545.80 370.40,550.40 386.60,550.40 386.60,555.00 408.80,555.00 408.80,559.30 411.00,559.30 411.00,563.90 431.20,563.90 431.20,567.90 441.40,567.90 441.40,572.70 449.50,572.70 449.50,577.30 456.70,577.30 456.70,582.20 462.10,582.20 462.10,587.30 468.30,587.30 468.30,591.60 474.20,591.60 474.20,596.70 479.10,596.70 479.10,601.50 512.70,601.50" fill="none" stroke="#111" stroke-width="3.0" stroke-linejoin="miter"/>
<line x1="298.0" y1="517.5" x2="298.0" y2="663.50" stroke="#1c1c1c" stroke-width="1.45"/>
<line x1="297.4" y1="662.90" x2="515.70" y2="662.90" stroke="#1c1c1c" stroke-width="1.4"/>
<text x="293.40" y="664.71" font-size="7.0" text-anchor="end" fill="#231f20">0</text>
<text x="294.60" y="629.41" font-size="7.0" text-anchor="end" fill="#231f20">25</text>
<text x="294.60" y="593.51" font-size="7.0" text-anchor="end" fill="#231f20">50</text>
<text x="294.60" y="557.61" font-size="7.0" text-anchor="end" fill="#231f20">75</text>
<text x="294.60" y="521.71" font-size="7.0" text-anchor="end" fill="#231f20">100</text>
<line x1="298.00" y1="662.90" x2="298.00" y2="664.70" stroke="#231f20" stroke-width="0.9"/>
<text x="298.00" y="670.43" font-size="6.8" text-anchor="middle" fill="#231f20">0</text>
<line x1="325.15" y1="662.90" x2="325.15" y2="664.70" stroke="#231f20" stroke-width="0.9"/>
<text x="325.15" y="670.43" font-size="6.8" text-anchor="middle" fill="#231f20">1</text>
<line x1="352.30" y1="662.90" x2="352.30" y2="664.70" stroke="#231f20" stroke-width="0.9"/>
<text x="352.30" y="670.43" font-size="6.8" text-anchor="middle" fill="#231f20">2</text>
<line x1="379.45" y1="662.90" x2="379.45" y2="664.70" stroke="#231f20" stroke-width="0.9"/>
<text x="379.45" y="670.43" font-size="6.8" text-anchor="middle" fill="#231f20">3</text>
<line x1="406.60" y1="662.90" x2="406.60" y2="664.70" stroke="#231f20" stroke-width="0.9"/>
<text x="406.60" y="670.43" font-size="6.8" text-anchor="middle" fill="#231f20">4</text>
<line x1="433.75" y1="662.90" x2="433.75" y2="664.70" stroke="#231f20" stroke-width="0.9"/>
<text x="433.75" y="670.43" font-size="6.8" text-anchor="middle" fill="#231f20">5</text>
<line x1="460.90" y1="662.90" x2="460.90" y2="664.70" stroke="#231f20" stroke-width="0.9"/>
<text x="460.90" y="670.43" font-size="6.8" text-anchor="middle" fill="#231f20">6</text>
<line x1="488.05" y1="662.90" x2="488.05" y2="664.70" stroke="#231f20" stroke-width="0.9"/>
<text x="488.05" y="670.43" font-size="6.8" text-anchor="middle" fill="#231f20">7</text>
<line x1="515.20" y1="662.90" x2="515.20" y2="664.70" stroke="#231f20" stroke-width="0.9"/>
<text x="515.20" y="670.43" font-size="6.8" text-anchor="middle" fill="#231f20">8</text>
<text x="277.80" y="593.16" font-size="6.6" text-anchor="middle" font-weight="bold" transform="rotate(-90 277.80 590.80)" fill="#231f20">OS (%)</text>
<text x="357.60" y="636.06" font-size="6.3" text-anchor="middle" font-weight="bold" textLength="56.80" lengthAdjust="spacingAndGlyphs" fill="#231f20">Estimates (95% CI)</text>
<text x="314.60" y="646.58" font-size="4.7" text-anchor="middle" font-weight="bold" textLength="19.00" lengthAdjust="spacingAndGlyphs" fill="#231f20">Month 2</text>
<text x="314.60" y="654.98" font-size="4.7" text-anchor="middle" textLength="24.00" lengthAdjust="spacingAndGlyphs" fill="#333">94 (77, 98)</text>
<text x="344.10" y="646.58" font-size="4.7" text-anchor="middle" font-weight="bold" textLength="19.00" lengthAdjust="spacingAndGlyphs" fill="#231f20">Month 4</text>
<text x="344.10" y="654.98" font-size="4.7" text-anchor="middle" textLength="24.00" lengthAdjust="spacingAndGlyphs" fill="#333">75 (56, 87)</text>
<text x="373.10" y="646.58" font-size="4.7" text-anchor="middle" font-weight="bold" textLength="19.00" lengthAdjust="spacingAndGlyphs" fill="#231f20">Month 6</text>
<text x="373.10" y="654.98" font-size="4.7" text-anchor="middle" textLength="24.00" lengthAdjust="spacingAndGlyphs" fill="#333">56 (37, 71)</text>
<text x="402.30" y="646.58" font-size="4.7" text-anchor="middle" font-weight="bold" textLength="19.00" lengthAdjust="spacingAndGlyphs" fill="#231f20">Month 8</text>
<text x="402.30" y="654.98" font-size="4.7" text-anchor="middle" textLength="24.00" lengthAdjust="spacingAndGlyphs" fill="#333">43 (25, 59)</text>
<text x="417.80" y="682.57" font-size="6.9" text-anchor="middle" font-weight="bold" textLength="130.50" lengthAdjust="spacingAndGlyphs" fill="#231f20">Months since treatment commencement</text>
<text x="276.50" y="691.87" font-size="6.9" font-weight="bold" textLength="32.70" lengthAdjust="spacingAndGlyphs" fill="#231f20">No. at risk</text>
<text x="273.10" y="705.77" font-size="6.9" textLength="11.30" lengthAdjust="spacingAndGlyphs" fill="#231f20">ALL</text>
<text x="297.70" y="705.77" font-size="6.9" text-anchor="middle" fill="#231f20">32</text>
<text x="324.85" y="705.77" font-size="6.9" text-anchor="middle" fill="#231f20">30</text>
<text x="352.00" y="705.77" font-size="6.9" text-anchor="middle" fill="#231f20">30</text>
<text x="379.15" y="705.77" font-size="6.9" text-anchor="middle" fill="#231f20">25</text>
<text x="406.30" y="705.77" font-size="6.9" text-anchor="middle" fill="#231f20">24</text>
<text x="433.45" y="705.77" font-size="6.9" text-anchor="middle" fill="#231f20">21</text>
<text x="460.60" y="705.77" font-size="6.9" text-anchor="middle" fill="#231f20">17</text>
<text x="487.75" y="705.77" font-size="6.9" text-anchor="middle" fill="#231f20">13</text>
</g>
</svg></body></html>
